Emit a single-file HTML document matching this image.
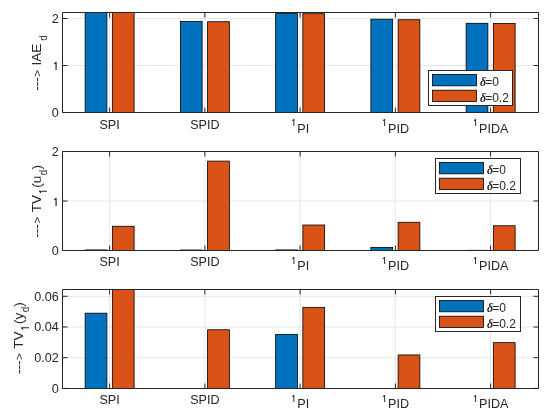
<!DOCTYPE html>
<html><head><meta charset="utf-8"><title>Bar charts</title>
<style>html,body{margin:0;padding:0;background:#fff;}svg{display:block;}
text{font-family:"Liberation Sans", Arial, Helvetica, sans-serif;fill:#262626;font-kerning:none;}</style></head>
<body>
<svg width="550" height="419" viewBox="0 0 550 419">
<rect x="0" y="0" width="550" height="419" fill="#fff"/>
<clipPath id="c0"><rect x="62.5" y="12.5" width="476.0" height="100.0"/></clipPath>
<path d="M109.62 12.5V112.5 M204.88 12.5V112.5 M300.12 12.5V112.5 M395.38 12.5V112.5 M490.62 12.5V112.5 M62.5 65.50H538.5 M62.5 18.50H538.5" stroke="#dfdfdf" stroke-width="0.8" fill="none"/>
<path d="M109.62 112.5v-5M109.62 12.5v5 M204.88 112.5v-5M204.88 12.5v5 M300.12 112.5v-5M300.12 12.5v5 M395.38 112.5v-5M395.38 12.5v5 M490.62 112.5v-5M490.62 12.5v5 M62.5 112.50h5M538.5 112.50h-5 M62.5 65.50h5M538.5 65.50h-5 M62.5 18.50h5M538.5 18.50h-5" stroke="#262626" stroke-width="1.0" fill="none"/>
<g clip-path="url(#c0)"><rect x="85.13" y="4.40" width="21.77" height="108.10" fill="#0072BD" stroke="#000" stroke-width="0.8"/><rect x="112.35" y="4.40" width="21.77" height="108.10" fill="#D95319" stroke="#000" stroke-width="0.8"/><rect x="180.38" y="21.51" width="21.77" height="90.99" fill="#0072BD" stroke="#000" stroke-width="0.8"/><rect x="207.60" y="21.70" width="21.77" height="90.80" fill="#D95319" stroke="#000" stroke-width="0.8"/><rect x="275.63" y="13.61" width="21.77" height="98.89" fill="#0072BD" stroke="#000" stroke-width="0.8"/><rect x="302.85" y="13.71" width="21.77" height="98.79" fill="#D95319" stroke="#000" stroke-width="0.8"/><rect x="370.88" y="19.20" width="21.77" height="93.30" fill="#0072BD" stroke="#000" stroke-width="0.8"/><rect x="398.10" y="19.72" width="21.77" height="92.78" fill="#D95319" stroke="#000" stroke-width="0.8"/><rect x="466.13" y="23.29" width="21.77" height="89.21" fill="#0072BD" stroke="#000" stroke-width="0.8"/><rect x="493.35" y="23.48" width="21.77" height="89.02" fill="#D95319" stroke="#000" stroke-width="0.8"/></g>
<path d="M62.5 112.5V12.5H538.5V112.5Z" fill="none" stroke="#262626" stroke-width="1.0"/>
<text x="58.8" y="116.71" text-anchor="end" font-size="12.6">0</text>
<text x="59.1" y="70.21" text-anchor="end" font-size="12.6"><tspan font-family="NanumGothic, &quot;Liberation Sans&quot;, sans-serif" font-weight="bold" font-size="11">1</tspan></text>
<text x="58.8" y="22.71" text-anchor="end" font-size="12.6">2</text>
<text x="109.62" y="128.80" text-anchor="middle" font-size="12.6">SPI</text>
<text x="204.88" y="128.80" text-anchor="middle" font-size="12.6">SPID</text>
<text x="300.12" y="132.80" text-anchor="middle" font-size="12.6"><tspan font-size="8.82" dy="-6.4" font-family="NanumGothic, &quot;Liberation Sans&quot;, sans-serif" font-weight="bold">1</tspan><tspan dy="6.4" dx="1">PI</tspan></text>
<text x="395.38" y="132.80" text-anchor="middle" font-size="12.6"><tspan font-size="8.82" dy="-6.4" font-family="NanumGothic, &quot;Liberation Sans&quot;, sans-serif" font-weight="bold">1</tspan><tspan dy="6.4" dx="1">PID</tspan></text>
<text x="490.62" y="132.80" text-anchor="middle" font-size="12.6"><tspan font-size="8.82" dy="-6.4" font-family="NanumGothic, &quot;Liberation Sans&quot;, sans-serif" font-weight="bold">1</tspan><tspan dy="6.4" dx="1">PIDA</tspan></text>
<text transform="translate(41.0 90.80) rotate(-90)" font-size="13.5"><tspan dy="0.3">---</tspan><tspan font-size="11.5" dx="0.6" dy="-0.3">&gt;</tspan><tspan dx="0.8"> </tspan>IAE<tspan font-size="9.99" dx="3.0" dy="6.0">d</tspan></text>
<rect x="428.5" y="70.5" width="84.0" height="35.0" fill="#fff" stroke="#262626" stroke-width="1.0"/>
<rect x="432.50" y="74.50" width="44.0" height="11.3" fill="#0072BD" stroke="#000" stroke-width="0.8"/>
<text x="480.00" y="86.10" font-size="12.0"><tspan font-family='"Liberation Serif", "Times New Roman", serif' font-style="italic" font-weight="bold">δ</tspan><tspan dx="-1.0">=</tspan>0</text>
<rect x="432.50" y="90.20" width="44.0" height="11.3" fill="#D95319" stroke="#000" stroke-width="0.8"/>
<text x="480.00" y="102.10" font-size="12.0"><tspan font-family='"Liberation Serif", "Times New Roman", serif' font-style="italic" font-weight="bold">δ</tspan><tspan dx="-1.0">=</tspan>0.2</text>
<clipPath id="c1"><rect x="62.5" y="151.5" width="476.0" height="99.0"/></clipPath>
<path d="M109.62 151.5V250.5 M204.88 151.5V250.5 M300.12 151.5V250.5 M395.38 151.5V250.5 M490.62 151.5V250.5 M62.5 201.00H538.5" stroke="#dfdfdf" stroke-width="0.8" fill="none"/>
<path d="M109.62 250.5v-5M109.62 151.5v5 M204.88 250.5v-5M204.88 151.5v5 M300.12 250.5v-5M300.12 151.5v5 M395.38 250.5v-5M395.38 151.5v5 M490.62 250.5v-5M490.62 151.5v5 M62.5 250.50h5M538.5 250.50h-5 M62.5 201.00h5M538.5 201.00h-5 M62.5 151.50h5M538.5 151.50h-5" stroke="#262626" stroke-width="1.0" fill="none"/>
<g clip-path="url(#c1)"><rect x="85.13" y="249.91" width="21.77" height="0.59" fill="#0072BD" stroke="#000" stroke-width="0.8"/><rect x="112.35" y="226.25" width="21.77" height="24.25" fill="#D95319" stroke="#000" stroke-width="0.8"/><rect x="180.38" y="250.00" width="21.77" height="0.50" fill="#0072BD" stroke="#000" stroke-width="0.8"/><rect x="207.60" y="161.10" width="21.77" height="89.40" fill="#D95319" stroke="#000" stroke-width="0.8"/><rect x="275.63" y="249.91" width="21.77" height="0.59" fill="#0072BD" stroke="#000" stroke-width="0.8"/><rect x="302.85" y="225.01" width="21.77" height="25.49" fill="#D95319" stroke="#000" stroke-width="0.8"/><rect x="370.88" y="247.38" width="21.77" height="3.12" fill="#0072BD" stroke="#000" stroke-width="0.8"/><rect x="398.10" y="222.28" width="21.77" height="28.22" fill="#D95319" stroke="#000" stroke-width="0.8"/><rect x="466.13" y="250.30" width="21.77" height="0.20" fill="#0072BD" stroke="#000" stroke-width="0.8"/><rect x="493.35" y="225.75" width="21.77" height="24.75" fill="#D95319" stroke="#000" stroke-width="0.8"/></g>
<path d="M62.5 250.5V151.5H538.5V250.5Z" fill="none" stroke="#262626" stroke-width="1.0"/>
<text x="58.8" y="254.71" text-anchor="end" font-size="12.6">0</text>
<text x="59.1" y="205.71" text-anchor="end" font-size="12.6"><tspan font-family="NanumGothic, &quot;Liberation Sans&quot;, sans-serif" font-weight="bold" font-size="11">1</tspan></text>
<text x="58.8" y="155.71" text-anchor="end" font-size="12.6">2</text>
<text x="109.62" y="266.10" text-anchor="middle" font-size="12.6">SPI</text>
<text x="204.88" y="266.10" text-anchor="middle" font-size="12.6">SPID</text>
<text x="300.12" y="270.10" text-anchor="middle" font-size="12.6"><tspan font-size="8.82" dy="-6.4" font-family="NanumGothic, &quot;Liberation Sans&quot;, sans-serif" font-weight="bold">1</tspan><tspan dy="6.4" dx="1">PI</tspan></text>
<text x="395.38" y="270.10" text-anchor="middle" font-size="12.6"><tspan font-size="8.82" dy="-6.4" font-family="NanumGothic, &quot;Liberation Sans&quot;, sans-serif" font-weight="bold">1</tspan><tspan dy="6.4" dx="1">PID</tspan></text>
<text x="490.62" y="270.10" text-anchor="middle" font-size="12.6"><tspan font-size="8.82" dy="-6.4" font-family="NanumGothic, &quot;Liberation Sans&quot;, sans-serif" font-weight="bold">1</tspan><tspan dy="6.4" dx="1">PIDA</tspan></text>
<text transform="translate(40.8 237.70) rotate(-90)" font-size="13.5"><tspan dy="0.3">---</tspan><tspan font-size="11.5" dx="0.6" dy="-0.3">&gt;</tspan><tspan dx="0.8"> </tspan>TV<tspan font-size="9.99" dx="0.5" dy="6.0" font-family="NanumGothic, &quot;Liberation Sans&quot;, sans-serif" font-weight="bold">1</tspan><tspan dx="0.8" dy="-6.0">(u</tspan><tspan font-size="9.99" dx="0.5" dy="6.0">d</tspan><tspan dy="-6.0">)</tspan></text>
<rect x="435.5" y="158.5" width="85.0" height="35.0" fill="#fff" stroke="#262626" stroke-width="1.0"/>
<rect x="439.50" y="162.50" width="44.0" height="11.3" fill="#0072BD" stroke="#000" stroke-width="0.8"/>
<text x="487.00" y="174.10" font-size="12.0"><tspan font-family='"Liberation Serif", "Times New Roman", serif' font-style="italic" font-weight="bold">δ</tspan><tspan dx="-1.0">=</tspan>0</text>
<rect x="439.50" y="178.20" width="44.0" height="11.3" fill="#D95319" stroke="#000" stroke-width="0.8"/>
<text x="487.00" y="190.10" font-size="12.0"><tspan font-family='"Liberation Serif", "Times New Roman", serif' font-style="italic" font-weight="bold">δ</tspan><tspan dx="-1.0">=</tspan>0.2</text>
<clipPath id="c2"><rect x="62.5" y="289.5" width="476.0" height="99.0"/></clipPath>
<path d="M109.62 289.5V388.5 M204.88 289.5V388.5 M300.12 289.5V388.5 M395.38 289.5V388.5 M490.62 289.5V388.5 M62.5 357.70H538.5 M62.5 327.00H538.5 M62.5 296.30H538.5" stroke="#dfdfdf" stroke-width="0.8" fill="none"/>
<path d="M109.62 388.5v-5M109.62 289.5v5 M204.88 388.5v-5M204.88 289.5v5 M300.12 388.5v-5M300.12 289.5v5 M395.38 388.5v-5M395.38 289.5v5 M490.62 388.5v-5M490.62 289.5v5 M62.5 388.40h5M538.5 388.40h-5 M62.5 357.70h5M538.5 357.70h-5 M62.5 327.00h5M538.5 327.00h-5 M62.5 296.30h5M538.5 296.30h-5" stroke="#262626" stroke-width="1.0" fill="none"/>
<g clip-path="url(#c2)"><rect x="85.13" y="313.18" width="21.77" height="75.22" fill="#0072BD" stroke="#000" stroke-width="0.8"/><rect x="112.35" y="280.95" width="21.77" height="107.45" fill="#D95319" stroke="#000" stroke-width="0.8"/><rect x="207.60" y="329.76" width="21.77" height="58.64" fill="#D95319" stroke="#000" stroke-width="0.8"/><rect x="275.63" y="334.37" width="21.77" height="54.03" fill="#0072BD" stroke="#000" stroke-width="0.8"/><rect x="302.85" y="307.35" width="21.77" height="81.05" fill="#D95319" stroke="#000" stroke-width="0.8"/><rect x="398.10" y="354.94" width="21.77" height="33.46" fill="#D95319" stroke="#000" stroke-width="0.8"/><rect x="493.35" y="342.66" width="21.77" height="45.74" fill="#D95319" stroke="#000" stroke-width="0.8"/></g>
<path d="M62.5 388.5V289.5H538.5V388.5Z" fill="none" stroke="#262626" stroke-width="1.0"/>
<text x="58.8" y="392.61" text-anchor="end" font-size="12.6">0</text>
<text x="58.8" y="361.91" text-anchor="end" font-size="12.6">0.02</text>
<text x="58.8" y="331.21" text-anchor="end" font-size="12.6">0.04</text>
<text x="58.8" y="300.51" text-anchor="end" font-size="12.6">0.06</text>
<text x="109.62" y="403.90" text-anchor="middle" font-size="12.6">SPI</text>
<text x="204.88" y="403.90" text-anchor="middle" font-size="12.6">SPID</text>
<text x="300.12" y="407.90" text-anchor="middle" font-size="12.6"><tspan font-size="8.82" dy="-6.4" font-family="NanumGothic, &quot;Liberation Sans&quot;, sans-serif" font-weight="bold">1</tspan><tspan dy="6.4" dx="1">PI</tspan></text>
<text x="395.38" y="407.90" text-anchor="middle" font-size="12.6"><tspan font-size="8.82" dy="-6.4" font-family="NanumGothic, &quot;Liberation Sans&quot;, sans-serif" font-weight="bold">1</tspan><tspan dy="6.4" dx="1">PID</tspan></text>
<text x="490.62" y="407.90" text-anchor="middle" font-size="12.6"><tspan font-size="8.82" dy="-6.4" font-family="NanumGothic, &quot;Liberation Sans&quot;, sans-serif" font-weight="bold">1</tspan><tspan dy="6.4" dx="1">PIDA</tspan></text>
<text transform="translate(23.0 374.10) rotate(-90)" font-size="13.5"><tspan dy="0.3">---</tspan><tspan font-size="11.5" dx="0.6" dy="-0.3">&gt;</tspan><tspan dx="0.8"> </tspan>TV<tspan font-size="9.99" dx="0.5" dy="6.0" font-family="NanumGothic, &quot;Liberation Sans&quot;, sans-serif" font-weight="bold">1</tspan><tspan dx="0.8" dy="-6.0">(y</tspan><tspan font-size="9.99" dx="0.5" dy="6.0">d</tspan><tspan dy="-6.0">)</tspan></text>
<rect x="435.5" y="296.5" width="85.0" height="35.0" fill="#fff" stroke="#262626" stroke-width="1.0"/>
<rect x="439.50" y="300.50" width="44.0" height="11.3" fill="#0072BD" stroke="#000" stroke-width="0.8"/>
<text x="487.00" y="312.10" font-size="12.0"><tspan font-family='"Liberation Serif", "Times New Roman", serif' font-style="italic" font-weight="bold">δ</tspan><tspan dx="-1.0">=</tspan>0</text>
<rect x="439.50" y="316.20" width="44.0" height="11.3" fill="#D95319" stroke="#000" stroke-width="0.8"/>
<text x="487.00" y="328.10" font-size="12.0"><tspan font-family='"Liberation Serif", "Times New Roman", serif' font-style="italic" font-weight="bold">δ</tspan><tspan dx="-1.0">=</tspan>0.2</text>
</svg>
</body></html>
